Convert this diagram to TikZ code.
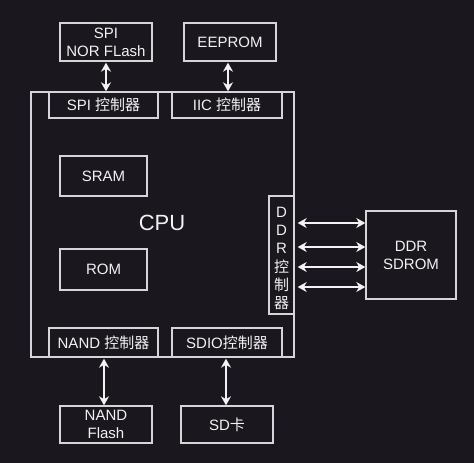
\documentclass[tikz,border=0pt]{standalone}
\usepackage{fontspec}
\setmainfont{Liberation Sans}
\newfontfamily\cjk{Noto Sans CJK SC}
\usetikzlibrary{arrows.meta}
\definecolor{bg}{HTML}{1A171E}
\definecolor{ln}{HTML}{D6D6D6}
\definecolor{tx}{HTML}{F2F2F2}
\begin{document}
\begin{tikzpicture}[x=1pt,y=-1pt,
  box/.style={draw=ln,line width=1.4pt,text=tx,inner sep=0pt,align=center,font=\fontsize{15}{18}\selectfont},
  ltr/.style={text=tx,inner sep=0pt,font=\fontsize{15}{18}\selectfont},
  link/.style={draw=tx,line width=1.3pt,{Stealth[length=9pt,width=10pt]}-{Stealth[length=9pt,width=10pt]}}]
\fill[bg] (0,0) rectangle (474,463);
\useasboundingbox (0,0) rectangle (474,463);
% CPU outer
\node[box,minimum width=263pt,minimum height=265pt] (cpu) at (162.5,224.5) {};
\node[text=tx,font=\fontsize{22}{24}\selectfont] (cputxt) at (162,223) {CPU};
% external
\node[box,minimum width=92pt,minimum height=38pt] (nor) at (106,42) {SPI\\NOR FLash};
\node[box,minimum width=92pt,minimum height=38pt] (eeprom) at (230,42) {EEPROM};
% controllers top
\node[box,minimum width=109pt,minimum height=26pt] (spi) at (103.5,105) {SPI {\cjk 控制器}};
\node[box,minimum width=110pt,minimum height=26pt] (iic) at (227,105) {IIC {\cjk 控制器}};
% memories
\node[box,minimum width=87pt,minimum height=40pt] (sram) at (103.5,176) {SRAM};
\node[box,minimum width=87pt,minimum height=41pt] (rom) at (103.5,269.5) {ROM};
% DDR controller
\node[box,minimum width=25pt,minimum height=118pt] (ddrc) at (281.5,255) {};
\foreach \c/\yy in {D/212,D/230,R/248} \node[ltr] at (281.5,\yy) {\c};
\foreach \c/\yy in {控/266.5,制/285,器/303.5} \node[ltr,font=\fontsize{15}{18}\selectfont\cjk] at (281.5,\yy) {\c};
% DDR SDROM
\node[box,minimum width=90pt,minimum height=88pt] (ddr) at (411,255) {DDR\\SDROM};
% controllers bottom
\node[box,minimum width=109pt,minimum height=29pt] (nand) at (103.5,342.5) {NAND {\cjk 控制器}};
\node[box,minimum width=110pt,minimum height=29pt] (sdio) at (227,342.5) {SDIO{\cjk 控制器}};
% bottom external
\node[box,minimum width=92pt,minimum height=37pt] (nandf) at (106,424.5) {NAND\\Flash};
\node[box,minimum width=92pt,minimum height=37pt] (sd) at (227,424.5) {SD{\cjk 卡}};
% links
\draw[link] (nor.south) ++(0,1) coordinate (a1) -- (a1 |- spi.north);
\draw[link] (eeprom.south -| 228,0) ++(0,1) coordinate (a2) -- (a2 |- iic.north);
\draw[link] (nand.south -| 104,0) ++(0,1) coordinate (a3) -- (a3 |- nandf.north);
\draw[link] (sdio.south -| 226,0) ++(0,1) coordinate (a4) -- (a4 |- sd.north);
\foreach \yy in {223,247,267,287}
  \draw[link] (ddrc.east |- 0,\yy) ++(3,0) coordinate (b) -- (b -| ddr.west);
\end{tikzpicture}
\end{document}
